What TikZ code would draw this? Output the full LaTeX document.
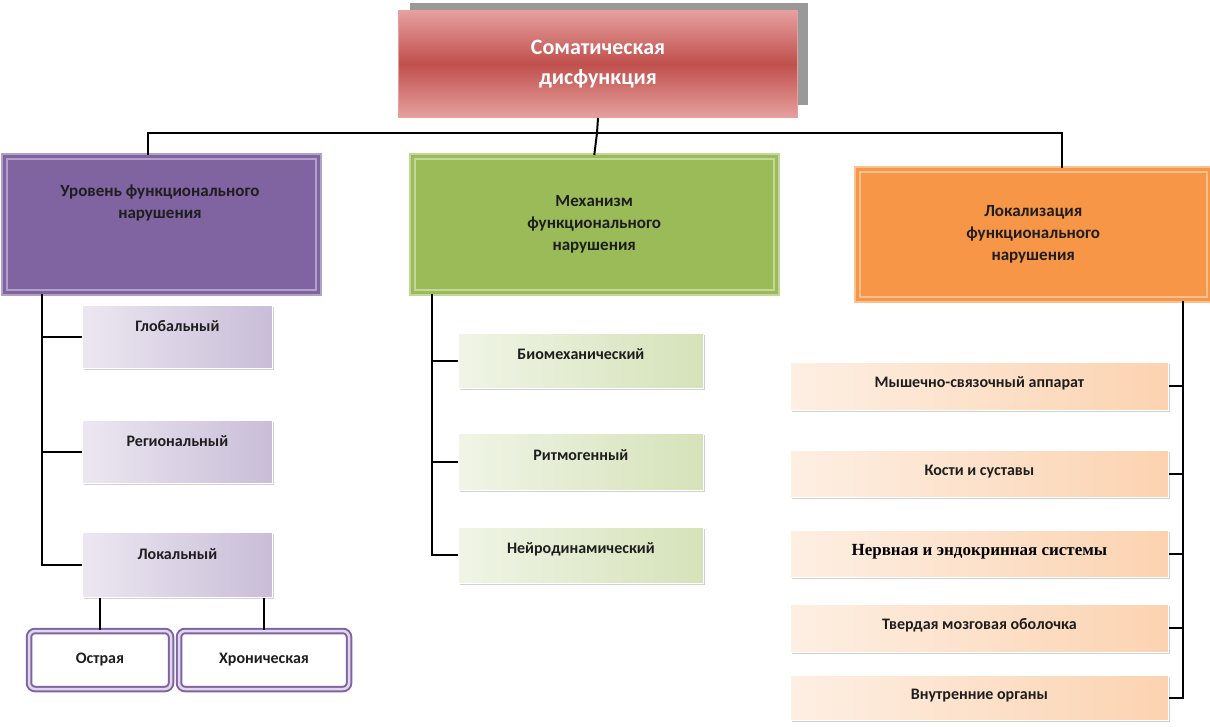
\documentclass[tikz,border=0pt]{standalone}
\usepackage{fontspec}
\setmainfont{Carlito}
\newfontfamily\timesfont{Liberation Serif}
\usetikzlibrary{positioning,shadows}
\definecolor{smred}{RGB}{192,80,77}
\definecolor{smredlight}{RGB}{230,160,158}
\definecolor{smpurple}{RGB}{128,100,162}
\definecolor{smpurplelight}{RGB}{178,161,199}
\definecolor{smgreen}{RGB}{155,187,89}
\definecolor{smgreenlight}{RGB}{195,214,155}
\definecolor{smorange}{RGB}{247,150,70}
\definecolor{smorangelight}{RGB}{250,192,143}
\definecolor{smtext}{RGB}{30,30,30}
\tikzstyle{link} = [line width=2pt, black]
\tikzstyle{headbox} = [rectangle, minimum width=314pt, minimum height=136pt, text centered, align=center, text=smtext, font=\bfseries\fontsize{17}{22}\selectfont, line width=2.5pt, double distance=2.5pt]
\tikzstyle{subbox} = [rectangle, text centered, align=center, text=smtext, font=\bfseries\fontsize{16}{20}\selectfont, draw=white, line width=0.8pt, drop shadow={shadow xshift=2pt, shadow yshift=-2pt, fill=black!35}]
\tikzstyle{kindbox} = [rectangle, rounded corners=6pt, minimum width=140pt, minimum height=58pt, fill=white, draw=smpurple, line width=2pt, double=smpurplelight!40, double distance=2.5pt, text=smtext, font=\bfseries\fontsize{16}{20}\selectfont]

\begin{document}
\begin{tikzpicture}[x=1pt,y=-1pt]
\useasboundingbox (0,0) rectangle (1210,726);
% Root
\fill[black!40] (410,3) rectangle (808,105);
\node (root) [rectangle, minimum width=399pt, minimum height=107pt, anchor=north west, draw=smredlight, line width=1pt,
  top color=smredlight, bottom color=smredlight, middle color=smred, text=white, align=center,
  font=\bfseries\fontsize{22}{30}\selectfont] at (398,10) {Соматическая\\дисфункция};

% Three categories
\node (level) [headbox, anchor=north west, fill=smpurple, draw=smpurplelight, double=smpurple] at (3,155) {};
\node (leveltext) [text=smtext, font=\bfseries\fontsize{17}{22}\selectfont, align=center] at (160,203) {Уровень функционального\\нарушения};
\node (mech) [headbox, anchor=north west, minimum width=364pt, fill=smgreen, draw=smgreenlight, double=smgreen] at (411,155) {Механизм\\функционального\\нарушения};
\node (loc) [headbox, anchor=north west, minimum width=352pt, minimum height=130pt, fill=smorange, draw=smorangelight, double=smorange] at (856,168) {Локализация\\функционального\\нарушения};

% Bus from root
\coordinate (bus) at (597,133);
\coordinate (busl) at (148,133);
\coordinate (busr) at (1062,133);
\draw[link] (root.south) -- (bus);
\draw[link] (busl |- level.north) -- (busl) -- (busr) -- (busr |- loc.north);
\draw[link] (bus) -- (mech.north);

% Level of dysfunction
\node (glob) [subbox, anchor=north west, minimum width=190pt, minimum height=63pt, left color=smpurplelight!25, right color=smpurplelight!70, text depth=22pt] at (82,305) {Глобальный};
\node (reg) [subbox, anchor=north west, minimum width=190pt, minimum height=63pt, left color=smpurplelight!25, right color=smpurplelight!70, text depth=22pt] at (82,420) {Региональный};
\node (local) [subbox, anchor=north west, minimum width=190pt, minimum height=65pt, left color=smpurplelight!25, right color=smpurplelight!70, text depth=22pt] at (82,532) {Локальный};
\coordinate (lt) at (42,0);
\draw[link] (lt |- level.south) -- (lt |- local.west) -- (local.west);
\draw[link] (lt |- glob.west) -- (glob.west);
\draw[link] (lt |- reg.west) -- (reg.west);
\node (acute) [kindbox, anchor=north west, minimum width=142pt] at (28,630) {Острая};
\node (chron) [kindbox, anchor=north west, minimum width=170pt] at (178,630) {Хроническая};
\draw[link] (acute.north |- local.south) -- (acute.north);
\draw[link] (chron.north |- local.south) -- (chron.north);

% Mechanism
\node (biomech) [subbox, anchor=north west, minimum width=245pt, minimum height=55pt, left color=smgreenlight!25, right color=smgreenlight!70, text depth=14pt] at (458,333) {Биомеханический};
\node (rhythm) [subbox, anchor=north west, minimum width=245pt, minimum height=57pt, left color=smgreenlight!25, right color=smgreenlight!70, text depth=14pt] at (458,433) {Ритмогенный};
\node (neuro) [subbox, anchor=north west, minimum width=245pt, minimum height=56pt, left color=smgreenlight!25, right color=smgreenlight!70, text depth=14pt] at (458,527) {Нейродинамический};
\coordinate (mt) at (432,0);
\draw[link] (mt |- mech.south) -- (mt |- neuro.west) -- (neuro.west);
\draw[link] (mt |- biomech.west) -- (biomech.west);
\draw[link] (mt |- rhythm.west) -- (rhythm.west);

% Localization
\node (muscle) [subbox, anchor=north west, minimum width=378pt, minimum height=48pt, left color=smorangelight!25, right color=smorangelight!70, text depth=8pt] at (790,362) {Мышечно-связочный аппарат};
\node (bones) [subbox, anchor=north west, minimum width=378pt, minimum height=47pt, left color=smorangelight!25, right color=smorangelight!70, text depth=8pt] at (790,450) {Кости и суставы};
\node (nerv) [subbox, anchor=north west, minimum width=378pt, minimum height=47pt, left color=smorangelight!25, right color=smorangelight!70, text depth=8pt, font=\timesfont\bfseries\fontsize{17}{20}\selectfont, text=black] at (790,530) {Нервная и эндокринная системы};
\node (dura) [subbox, anchor=north west, minimum width=378pt, minimum height=48pt, left color=smorangelight!25, right color=smorangelight!70, text depth=8pt] at (790,604) {Твердая мозговая оболочка};
\node (organs) [subbox, anchor=north west, minimum width=378pt, minimum height=45pt, left color=smorangelight!25, right color=smorangelight!70, text depth=8pt] at (790,675) {Внутренние органы};
\coordinate (rt) at (1183,0);
\draw[link] (rt |- loc.south) -- (rt |- organs.east) -- (organs.east);
\draw[link] (rt |- muscle.east) -- (muscle.east);
\draw[link] (rt |- bones.east) -- (bones.east);
\draw[link] (rt |- nerv.east) -- (nerv.east);
\draw[link] (rt |- dura.east) -- (dura.east);
\end{tikzpicture}
\end{document}
